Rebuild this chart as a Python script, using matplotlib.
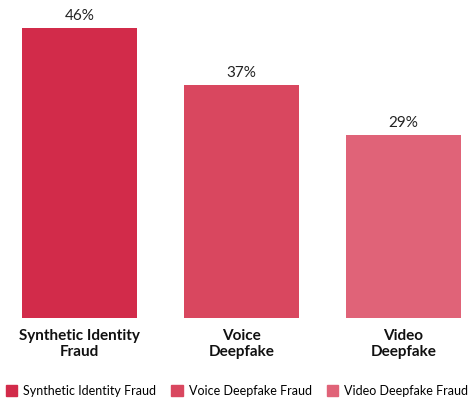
import matplotlib

matplotlib.use("Agg")
import matplotlib.pyplot as plt

categories = ["Synthetic Identity\nFraud", "Voice\nDeepfake", "Video\nDeepfake"]
legend_labels = ["Synthetic Identity Fraud", "Voice Deepfake Fraud", "Video Deepfake Fraud"]
values = [46, 37, 29]
colors = ["#d22b4a", "#d9475f", "#e06378"]

plt.rcParams["font.family"] = ["Lato", "DejaVu Sans"]

fig = plt.figure(figsize=(4.74, 4.08), dpi=100)
ax = fig.add_axes([22 / 474, 90 / 408, 439 / 474, 315 / 408])
x = range(len(values))
bars = ax.bar(x, values, width=0.712, color=colors)
for xi, v in zip(x, values):
    ax.text(xi, v + 0.8, f"{v}%", ha="center", va="bottom", fontsize=11, color="#222222")
ax.set_xlim(-0.356, 2.356)
ax.set_ylim(0, 50)
ax.set_yticks([])
ax.set_xticks(list(x))
ax.set_xticklabels(categories, fontsize=11, fontweight="bold", color="#111111")
ax.tick_params(axis="x", length=0, pad=8)
for s in ax.spines.values():
    s.set_visible(False)

handles = [plt.Rectangle((0, 0), 1, 1, color=c) for c in colors]
fig.legend(handles, legend_labels, loc="lower center", bbox_to_anchor=(0.5, 0.0), ncol=3,
           frameon=False, fontsize=9, handlelength=0.9, handleheight=0.9,
           handletextpad=0.5, columnspacing=1.2)
fig.savefig("out.png", dpi=100)
